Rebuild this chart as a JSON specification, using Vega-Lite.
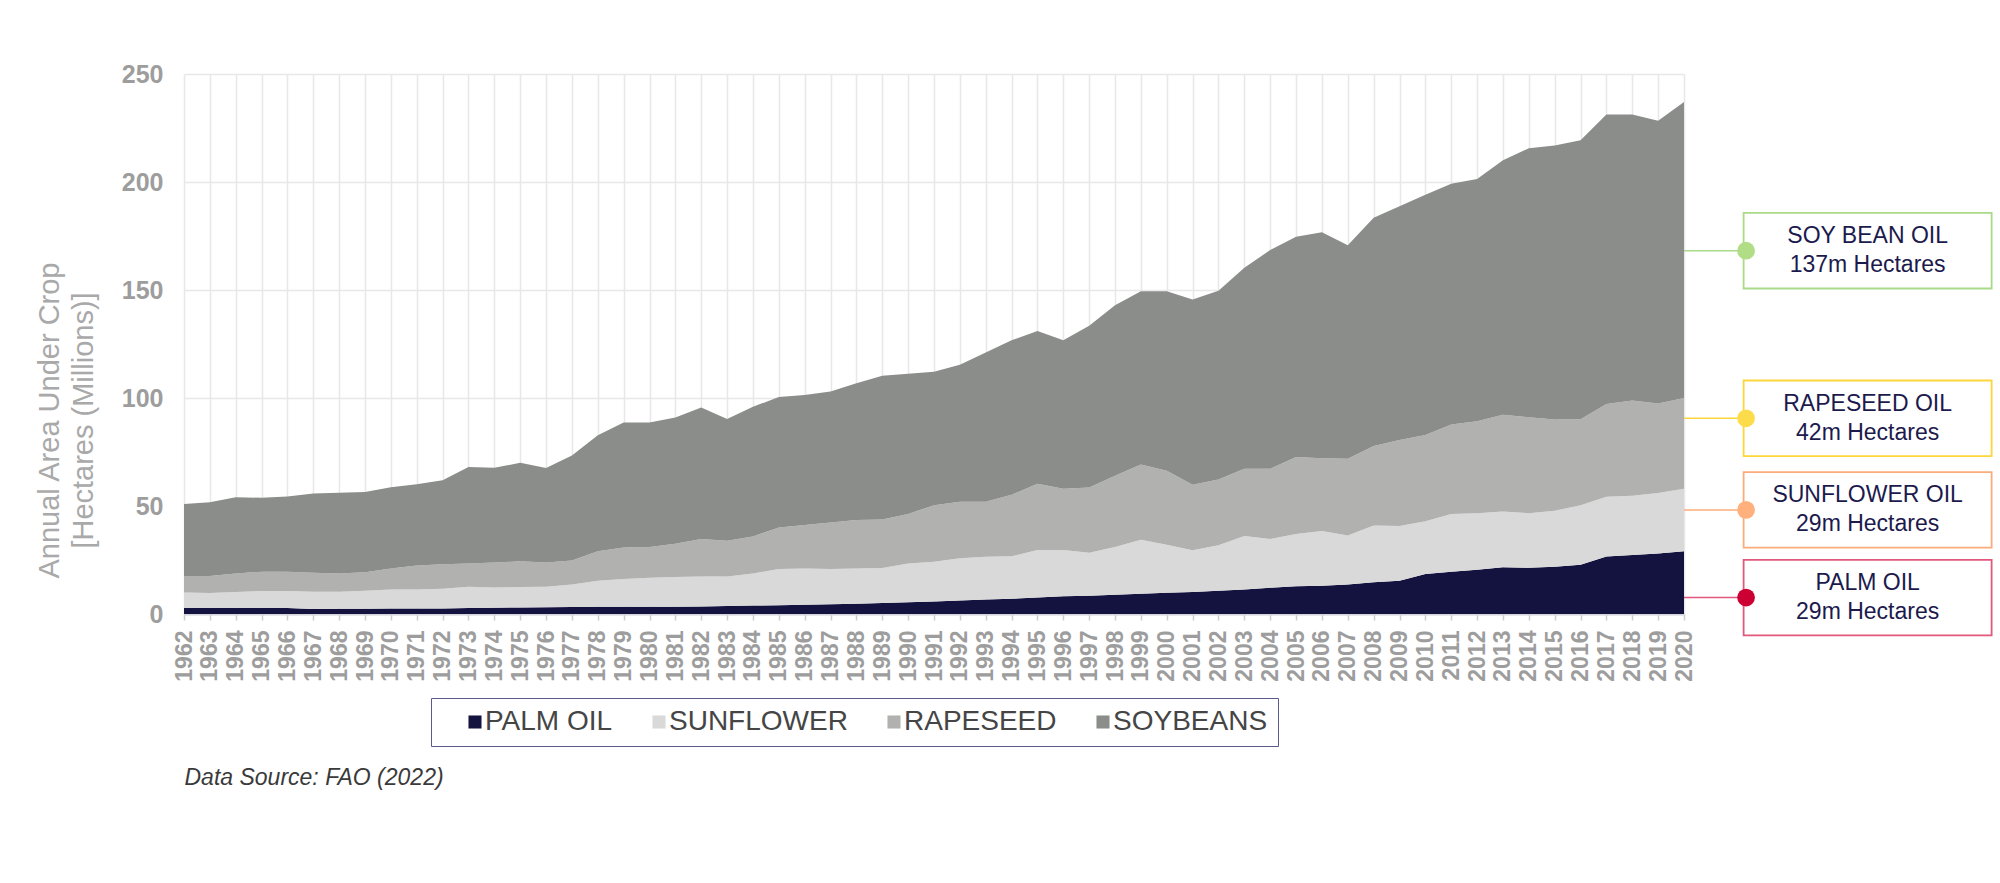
{
  "$schema": "https://vega.github.io/schema/vega-lite/v6.json",
  "width": 1500,
  "height": 540,
  "autosize": {"type": "none"},
  "padding": {"left": 184, "top": 74, "right": 316, "bottom": 269},
  "background": "white",
  "config": {"view": {"stroke": null}, "font": "Liberation Sans"},
  "datasets": {
    "harvested": [
      {"year": 1962, "PALM OIL": 2.8, "SUNFLOWER": 7.2, "RAPESEED": 7.6, "SOYBEANS": 33.3},
      {"year": 1963, "PALM OIL": 2.8, "SUNFLOWER": 6.9, "RAPESEED": 7.9, "SOYBEANS": 34.1},
      {"year": 1964, "PALM OIL": 2.8, "SUNFLOWER": 7.4, "RAPESEED": 8.5, "SOYBEANS": 35.4},
      {"year": 1965, "PALM OIL": 2.8, "SUNFLOWER": 7.8, "RAPESEED": 9.0, "SOYBEANS": 34.2},
      {"year": 1966, "PALM OIL": 2.8, "SUNFLOWER": 7.8, "RAPESEED": 9.0, "SOYBEANS": 34.8},
      {"year": 1967, "PALM OIL": 2.3, "SUNFLOWER": 8.0, "RAPESEED": 8.8, "SOYBEANS": 36.7},
      {"year": 1968, "PALM OIL": 2.4, "SUNFLOWER": 7.9, "RAPESEED": 8.5, "SOYBEANS": 37.3},
      {"year": 1969, "PALM OIL": 2.4, "SUNFLOWER": 8.4, "RAPESEED": 8.5, "SOYBEANS": 37.2},
      {"year": 1970, "PALM OIL": 2.5, "SUNFLOWER": 8.8, "RAPESEED": 9.8, "SOYBEANS": 37.6},
      {"year": 1971, "PALM OIL": 2.5, "SUNFLOWER": 8.9, "RAPESEED": 11.1, "SOYBEANS": 37.6},
      {"year": 1972, "PALM OIL": 2.6, "SUNFLOWER": 9.1, "RAPESEED": 11.3, "SOYBEANS": 38.9},
      {"year": 1973, "PALM OIL": 2.8, "SUNFLOWER": 9.8, "RAPESEED": 10.8, "SOYBEANS": 44.7},
      {"year": 1974, "PALM OIL": 2.9, "SUNFLOWER": 9.4, "RAPESEED": 11.5, "SOYBEANS": 43.9},
      {"year": 1975, "PALM OIL": 3.0, "SUNFLOWER": 9.5, "RAPESEED": 11.9, "SOYBEANS": 45.6},
      {"year": 1976, "PALM OIL": 3.1, "SUNFLOWER": 9.5, "RAPESEED": 11.2, "SOYBEANS": 43.8},
      {"year": 1977, "PALM OIL": 3.2, "SUNFLOWER": 10.5, "RAPESEED": 11.1, "SOYBEANS": 48.6},
      {"year": 1978, "PALM OIL": 3.4, "SUNFLOWER": 12.0, "RAPESEED": 13.6, "SOYBEANS": 53.8},
      {"year": 1979, "PALM OIL": 3.4, "SUNFLOWER": 12.8, "RAPESEED": 14.6, "SOYBEANS": 57.8},
      {"year": 1980, "PALM OIL": 3.4, "SUNFLOWER": 13.4, "RAPESEED": 14.2, "SOYBEANS": 57.6},
      {"year": 1981, "PALM OIL": 3.4, "SUNFLOWER": 13.7, "RAPESEED": 15.4, "SOYBEANS": 58.5},
      {"year": 1982, "PALM OIL": 3.5, "SUNFLOWER": 13.9, "RAPESEED": 17.3, "SOYBEANS": 60.9},
      {"year": 1983, "PALM OIL": 3.7, "SUNFLOWER": 13.7, "RAPESEED": 16.5, "SOYBEANS": 56.4},
      {"year": 1984, "PALM OIL": 3.9, "SUNFLOWER": 14.9, "RAPESEED": 17.1, "SOYBEANS": 60.0},
      {"year": 1985, "PALM OIL": 4.1, "SUNFLOWER": 16.7, "RAPESEED": 19.3, "SOYBEANS": 60.4},
      {"year": 1986, "PALM OIL": 4.3, "SUNFLOWER": 16.8, "RAPESEED": 20.1, "SOYBEANS": 60.2},
      {"year": 1987, "PALM OIL": 4.5, "SUNFLOWER": 16.3, "RAPESEED": 21.6, "SOYBEANS": 60.6},
      {"year": 1988, "PALM OIL": 4.8, "SUNFLOWER": 16.3, "RAPESEED": 22.4, "SOYBEANS": 63.3},
      {"year": 1989, "PALM OIL": 5.1, "SUNFLOWER": 16.2, "RAPESEED": 22.5, "SOYBEANS": 66.5},
      {"year": 1990, "PALM OIL": 5.4, "SUNFLOWER": 18.0, "RAPESEED": 22.9, "SOYBEANS": 64.9},
      {"year": 1991, "PALM OIL": 5.8, "SUNFLOWER": 18.4, "RAPESEED": 26.2, "SOYBEANS": 61.8},
      {"year": 1992, "PALM OIL": 6.3, "SUNFLOWER": 19.5, "RAPESEED": 26.2, "SOYBEANS": 63.4},
      {"year": 1993, "PALM OIL": 6.7, "SUNFLOWER": 19.8, "RAPESEED": 25.5, "SOYBEANS": 69.1},
      {"year": 1994, "PALM OIL": 7.1, "SUNFLOWER": 19.6, "RAPESEED": 28.5, "SOYBEANS": 71.5},
      {"year": 1995, "PALM OIL": 7.6, "SUNFLOWER": 22.0, "RAPESEED": 30.7, "SOYBEANS": 70.7},
      {"year": 1996, "PALM OIL": 8.2, "SUNFLOWER": 21.4, "RAPESEED": 28.4, "SOYBEANS": 68.7},
      {"year": 1997, "PALM OIL": 8.5, "SUNFLOWER": 19.9, "RAPESEED": 30.2, "SOYBEANS": 74.9},
      {"year": 1998, "PALM OIL": 8.9, "SUNFLOWER": 22.1, "RAPESEED": 33.0, "SOYBEANS": 78.9},
      {"year": 1999, "PALM OIL": 9.4, "SUNFLOWER": 25.0, "RAPESEED": 34.8, "SOYBEANS": 80.2},
      {"year": 2000, "PALM OIL": 9.8, "SUNFLOWER": 22.3, "RAPESEED": 34.2, "SOYBEANS": 83.1},
      {"year": 2001, "PALM OIL": 10.2, "SUNFLOWER": 19.3, "RAPESEED": 30.3, "SOYBEANS": 85.8},
      {"year": 2002, "PALM OIL": 10.8, "SUNFLOWER": 21.0, "RAPESEED": 30.5, "SOYBEANS": 87.4},
      {"year": 2003, "PALM OIL": 11.4, "SUNFLOWER": 24.7, "RAPESEED": 31.1, "SOYBEANS": 93.1},
      {"year": 2004, "PALM OIL": 12.2, "SUNFLOWER": 22.5, "RAPESEED": 32.5, "SOYBEANS": 101.3},
      {"year": 2005, "PALM OIL": 12.8, "SUNFLOWER": 24.2, "RAPESEED": 35.7, "SOYBEANS": 101.9},
      {"year": 2006, "PALM OIL": 13.1, "SUNFLOWER": 25.3, "RAPESEED": 33.7, "SOYBEANS": 104.6},
      {"year": 2007, "PALM OIL": 13.7, "SUNFLOWER": 22.7, "RAPESEED": 35.5, "SOYBEANS": 98.8},
      {"year": 2008, "PALM OIL": 14.7, "SUNFLOWER": 26.3, "RAPESEED": 36.8, "SOYBEANS": 105.7},
      {"year": 2009, "PALM OIL": 15.4, "SUNFLOWER": 25.3, "RAPESEED": 39.8, "SOYBEANS": 108.3},
      {"year": 2010, "PALM OIL": 18.5, "SUNFLOWER": 24.4, "RAPESEED": 40.0, "SOYBEANS": 111.2},
      {"year": 2011, "PALM OIL": 19.6, "SUNFLOWER": 26.7, "RAPESEED": 41.4, "SOYBEANS": 111.5},
      {"year": 2012, "PALM OIL": 20.5, "SUNFLOWER": 26.1, "RAPESEED": 42.6, "SOYBEANS": 112.2},
      {"year": 2013, "PALM OIL": 21.6, "SUNFLOWER": 25.9, "RAPESEED": 44.8, "SOYBEANS": 117.8},
      {"year": 2014, "PALM OIL": 21.4, "SUNFLOWER": 25.3, "RAPESEED": 44.4, "SOYBEANS": 124.5},
      {"year": 2015, "PALM OIL": 21.9, "SUNFLOWER": 25.9, "RAPESEED": 42.2, "SOYBEANS": 126.9},
      {"year": 2016, "PALM OIL": 22.8, "SUNFLOWER": 27.5, "RAPESEED": 39.9, "SOYBEANS": 129.1},
      {"year": 2017, "PALM OIL": 26.6, "SUNFLOWER": 27.7, "RAPESEED": 42.9, "SOYBEANS": 134.0},
      {"year": 2018, "PALM OIL": 27.3, "SUNFLOWER": 27.5, "RAPESEED": 44.1, "SOYBEANS": 132.3},
      {"year": 2019, "PALM OIL": 28.0, "SUNFLOWER": 28.0, "RAPESEED": 41.4, "SOYBEANS": 131.0},
      {"year": 2020, "PALM OIL": 29.0, "SUNFLOWER": 29.0, "RAPESEED": 42.0, "SOYBEANS": 137.0}
    ],
    "callouts": [
      {"callout": "SOY BEAN OIL", "note": "137m Hectares", "at": 168.2},
      {"callout": "RAPESEED OIL", "note": "42m Hectares", "at": 90.6},
      {"callout": "SUNFLOWER OIL", "note": "29m Hectares", "at": 48.2},
      {"callout": "PALM OIL", "note": "29m Hectares", "at": 7.6}
    ]
  },
  "layer": [
    {
      "data": {"name": "harvested"},
      "transform": [
        {"fold": ["PALM OIL", "SUNFLOWER", "RAPESEED", "SOYBEANS"], "as": ["crop", "mha"]},
        {"stack": "mha", "groupby": ["year"], "as": ["lower", "upper"]}
      ],
      "mark": {"type": "area", "interpolate": "linear"},
      "encoding": {
        "x": {
          "field": "year",
          "type": "quantitative",
          "scale": {"domain": [1962, 2020], "nice": false, "zero": false},
          "axis": {
            "tickCount": 58,
            "format": "d",
            "labelAngle": 270,
            "labelFont": "Liberation Sans",
            "labelFontSize": 23,
            "labelFontWeight": "bold",
            "labelColor": "#9d9d9d",
            "labelPadding": 10,
            "labelOverlap": false,
            "labelFlush": false,
            "tickColor": "#cccccc",
            "tickSize": 6,
            "tickWidth": 1.5,
            "domainColor": "#d4d4dc",
            "domainWidth": 2,
            "grid": true,
            "gridColor": "#e8e8e8",
            "gridWidth": 1.5,
            "title": "Data Source: FAO (2022)",
            "titleFont": "Liberation Sans",
            "titleFontSize": 23,
            "titleFontStyle": "italic",
            "titleFontWeight": "normal",
            "titleColor": "#3a3a3a",
            "titleX": 0,
            "titleY": 170,
            "titleAlign": "left",
            "titleAnchor": "start",
            "titleBaseline": "alphabetic"
          }
        },
        "y": {
          "field": "upper",
          "type": "quantitative",
          "scale": {"domain": [0, 250], "nice": false},
          "axis": {
            "values": [0, 50, 100, 150, 200, 250],
            "format": "d",
            "labelFont": "Liberation Sans",
            "labelFontSize": 25,
            "labelFontWeight": "bold",
            "labelColor": "#9d9d9d",
            "labelPadding": 21,
            "ticks": false,
            "domain": false,
            "grid": true,
            "gridColor": "#e8e8e8",
            "gridWidth": 1.5,
            "title": ["Annual Area Under Crop", "[Hectares (Millions)]"],
            "titleFont": "Liberation Sans",
            "titleFontSize": 29,
            "titleFontWeight": "normal",
            "titleColor": "#a9a9a9",
            "titleAngle": 270,
            "titleX": -135,
            "titleY": 346,
            "titleAlign": "center",
            "titleBaseline": "middle",
            "titleLineHeight": 34
          }
        },
        "y2": {"field": "lower"},
        "color": {
          "field": "crop",
          "type": "nominal",
          "sort": ["PALM OIL", "SUNFLOWER", "RAPESEED", "SOYBEANS"],
          "scale": {"range": ["#14123f", "#d9d9d9", "#b1b2af", "#8a8d89"]},
          "legend": {
            "orient": "none",
            "legendX": 247,
            "legendY": 624,
            "direction": "horizontal",
            "title": " ",
            "titleOrient": "left",
            "titleFontSize": 28,
            "titlePadding": 20,
            "symbolType": "square",
            "symbolSize": 170,
            "symbolStrokeWidth": 0,
            "labelFont": "Liberation Sans",
            "labelFontSize": 28,
            "labelColor": "#454545",
            "labelOffset": -4,
            "labelLimit": 400,
            "columnPadding": 32,
            "padding": 10,
            "strokeColor": "#5a5a8c",
            "fillColor": "white"
          }
        }
      }
    },
    {
      "data": {"name": "callouts"},
      "mark": {"type": "rule", "strokeWidth": 1.5},
      "encoding": {
        "x": {"datum": 2020},
        "x2": {"datum": 2022.4},
        "y": {"field": "at", "type": "quantitative"},
        "stroke": {
          "field": "callout",
          "type": "nominal",
          "scale": {
            "domain": ["SOY BEAN OIL", "RAPESEED OIL", "SUNFLOWER OIL", "PALM OIL"],
            "range": ["#a9da88", "#fcd63a", "#fcac7a", "#e2587c"]
          },
          "legend": null
        }
      }
    },
    {
      "data": {"name": "callouts"},
      "mark": {
        "type": "point",
        "shape": "M-1,-0.3048H1V0.3048H-1Z",
        "size": 61504,
        "filled": false,
        "opacity": 1,
        "strokeWidth": 1.8
      },
      "encoding": {
        "x": {"datum": 2027.1},
        "y": {"field": "at", "type": "quantitative"},
        "stroke": {"field": "callout", "type": "nominal", "legend": null}
      }
    },
    {
      "data": {"name": "callouts"},
      "mark": {"type": "point", "shape": "circle", "size": 314, "filled": true, "opacity": 1, "strokeWidth": 0},
      "encoding": {
        "x": {"datum": 2022.4},
        "y": {"field": "at", "type": "quantitative"},
        "fill": {
          "field": "callout",
          "type": "nominal",
          "scale": {
            "domain": ["SOY BEAN OIL", "RAPESEED OIL", "SUNFLOWER OIL", "PALM OIL"],
            "range": ["#b0dd85", "#fddc4c", "#ffb07c", "#cc0033"]
          },
          "legend": null
        }
      }
    },
    {
      "data": {"name": "callouts"},
      "mark": {"type": "text", "font": "Liberation Sans", "fontSize": 23, "color": "#1c1a4d", "align": "center", "baseline": "middle", "dy": -14.5},
      "encoding": {
        "x": {"datum": 2027.1},
        "y": {"field": "at", "type": "quantitative"},
        "text": {"field": "callout", "type": "nominal"}
      }
    },
    {
      "data": {"name": "callouts"},
      "mark": {"type": "text", "font": "Liberation Sans", "fontSize": 23, "color": "#1c1a4d", "align": "center", "baseline": "middle", "dy": 14.5},
      "encoding": {
        "x": {"datum": 2027.1},
        "y": {"field": "at", "type": "quantitative"},
        "text": {"field": "note", "type": "nominal"}
      }
    }
  ]
}
